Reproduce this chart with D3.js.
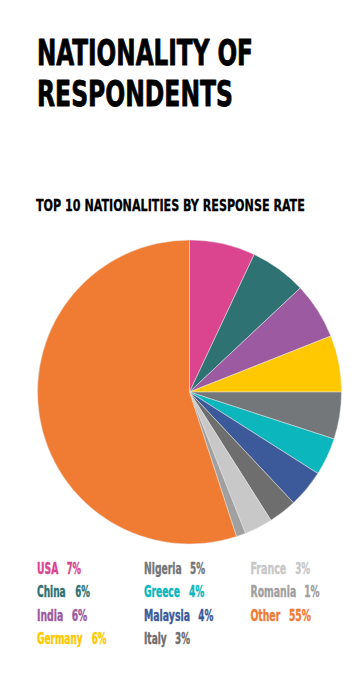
<!DOCTYPE html>
<html><head><meta charset="utf-8">
<script src="https://cdn.jsdelivr.net/npm/d3@7"></script>
<style>
html,body{margin:0;padding:0;background:#fff;}
svg{display:block;}
text{font-family:"Liberation Sans Narrow","DejaVu Sans Condensed","Roboto",sans-serif;font-weight:bold;}
</style></head>
<body><svg id="c" width="357" height="673"></svg>
<script>
const categories = ["USA","China","India","Germany","Nigeria","Greece","Malaysia","Italy","France","Romania","Other"];
const values = [7,6,6,6,5,4,4,3,3,1,55];
const colors = ["#db4590","#2e7273","#9c5ba1","#ffc800","#74777a","#0bb7bc","#3c5a99","#6f6e6e","#c8c8c8","#a0a0a0","#f07b32"];
const titleLines = ["NATIONALITY OF","RESPONDENTS"];
const subtitle = "TOP 10 NATIONALITIES BY RESPONSE RATE";

const svg = d3.select("#c");

// place a text at (x,y) and squeeze it horizontally to a target width
function fitText(parent, x, y, size, fill, str, targetW, sw){
  const t = parent.append("text").attr("x",0).attr("y",0)
    .attr("font-size",size).attr("fill",fill).text(str);
  const w = t.node().getComputedTextLength();
  const s = w > 0 ? targetW / w : 1;
  t.attr("transform",`translate(${x},${y}) scale(${s},1)`);
  if (sw) t.attr("stroke",fill).attr("stroke-width",sw).attr("stroke-linejoin","round");
  return t;
}

// Title
const titleW = [216, 196];
titleLines.forEach((t,i)=>{
  fitText(svg, 37, 65+i*41, 36, "#000", t, titleW[i], 0.8);
});
fitText(svg, 36, 211, 16, "#000", subtitle, 269, 0.3);

// Pie
const cx = 189.5, cy = 392, r = 152;
const pie = d3.pie().sort(null).value(d=>d)(values);
const arc = d3.arc().innerRadius(0).outerRadius(r);
svg.append("g").attr("transform",`translate(${cx},${cy})`)
  .selectAll("path").data(pie).join("path")
  .attr("d",arc)
  .attr("fill",(d,i)=>colors[i])
  .attr("stroke","#e6e6e6").attr("stroke-width",0.5);

// Legend
const colX = d3.scaleOrdinal().domain([0,1,2]).range([37,144,250.5]);
const rowY = d3.scaleLinear().domain([0,3]).range([573.5,644]);
const nameW = [21.3,28.7,26.3,45.7,37.7,36,46,22.7,35.7,45.7,29.7];
const pctX = [29.7,38.3,34.7,54.7,46,45,54.3,31,44.7,53.7,38.4];
const pctW = [14.3,14.7,15.6,15,15,15.3,15,15,15,15.3,22];
categories.forEach((name,k)=>{
  const col = Math.floor(k/4), row = k%4;
  const x0 = colX(col), y0 = rowY(row);
  fitText(svg, x0, y0, 15.2, colors[k], name, nameW[k], 0.4);
  fitText(svg, x0+pctX[k], y0, 15.2, colors[k], values[k]+"%", pctW[k], 0.4);
});
</script></body></html>
